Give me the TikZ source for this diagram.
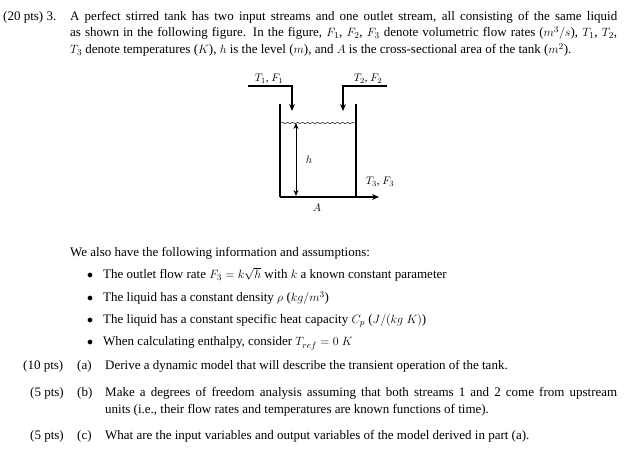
\documentclass[tikz,border=0pt]{standalone}
\usepackage{fontspec}
\setmainfont{Liberation Serif}
\usetikzlibrary{decorations.pathmorphing,arrows.meta}
\begin{document}
\begin{tikzpicture}[x=1pt,y=-1pt,
  txt/.style={anchor=base west,inner sep=0pt,font=\fontsize{13}{15}\selectfont},
  lbl/.style={inner sep=0pt,font=\fontsize{11}{12}\selectfont},
  pipe/.style={line width=1.4pt},
  arr/.style={line width=1.2pt,-{Stealth[length=7pt,width=6pt]}}]
\useasboundingbox (0,0) rectangle (625,449);
\node[txt] (n0) at (3,21) {(20 pts) 3.};
\node[txt] (l1) at (70,21) {\makebox[547pt][s]{A perfect stirred tank has two input streams and one outlet stream, all consisting of the same liquid}};
\node[txt] (l2) at (70,37) {\makebox[547pt][s]{as shown in the following figure. In the figure, $F_1$, $F_2$, $F_3$ denote volumetric flow rates ($m^3/s$), $T_1$, $T_2$,}};
\node[txt] (l3) at (70,54) {$T_3$ denote temperatures ($K$), $h$ is the level ($m$), and $A$ is the cross-sectional area of the tank ($m^2$).};
% tank
\coordinate (lt) at (280,104); \coordinate (lb) at (280,197);
\coordinate (rt) at (356,104); \coordinate (rb) at (356,197);
\coordinate (out) at (379,197);
\draw[pipe] (lt) -- (lb);
\draw[pipe] (rt) -- (rb);
\draw[arr] (lb) -- (out);
\coordinate (i1s) at (248,86); \coordinate (i1c) at (292,86); \coordinate (i1e) at (292,111);
\coordinate (i2s) at (387,86); \coordinate (i2c) at (343,86); \coordinate (i2e) at (343,111);
\draw[arr] (i1s) -- (i1c) -- (i1e);
\draw[arr] (i2s) -- (i2c) -- (i2e);
\coordinate (w1) at (281,123); \coordinate (w2) at (355,123);
\draw[decorate,decoration={snake,amplitude=0.8pt,segment length=5pt}] (w1) -- (w2);
\coordinate (ht) at (296,123); \coordinate (hb) at (296,196);
\draw[line width=0.9pt,{Stealth[length=6pt,width=5pt]}-{Stealth[length=6pt,width=5pt]}] (ht) -- (hb);
\node[lbl] (h) at (309,160) {$h$};
\node[lbl] (A) at (317,208) {$A$};
\node[lbl] (t3) at (380,182) {$T_3$, $F_3$};
\node[lbl] (t1) at (269,79) {$T_1$, $F_1$};
\node[lbl] (t2) at (368,79) {$T_2$, $F_2$};
% info
\node[txt] (we) at (70,257) {We also have the following information and assumptions:};
\foreach \y/\t [count=\i] in {279/{The outlet flow rate $F_3=k\sqrt{h}$ with $k$ a known constant parameter},
  302/{The liquid has a constant density $\rho$ ($kg/m^3$)},
  324/{The liquid has a constant specific heat capacity $C_p$ ($J/(kg\ K)$)},
  346/{When calculating enthalpy, consider $T_{ref}=0\ K$}}{
  \node[txt] (b\i) at (87,\y) {$\bullet$};
  \node[txt] (bt\i) at (103,\y) {\t};
}
\node[txt] (pa) at (23,370) {(10 pts)};
\node[txt] (pa2) at (77,370) {(a)};
\node[txt] (ta) at (105,370) {Derive a dynamic model that will describe the transient operation of the tank.};
\node[txt] (pb) at (30,397) {(5 pts)};
\node[txt] (pb2) at (77,397) {(b)};
\node[txt] (tb) at (105,397) {\makebox[512pt][s]{Make a degrees of freedom analysis assuming that both streams 1 and 2 come from upstream}};
\node[txt] (tb2) at (105,414) {units (i.e., their flow rates and temperatures are known functions of time).};
\node[txt] (pc) at (30,440) {(5 pts)};
\node[txt] (pc2) at (77,440) {(c)};
\node[txt] (tc) at (105,440) {What are the input variables and output variables of the model derived in part (a).};
\end{tikzpicture}
\end{document}
